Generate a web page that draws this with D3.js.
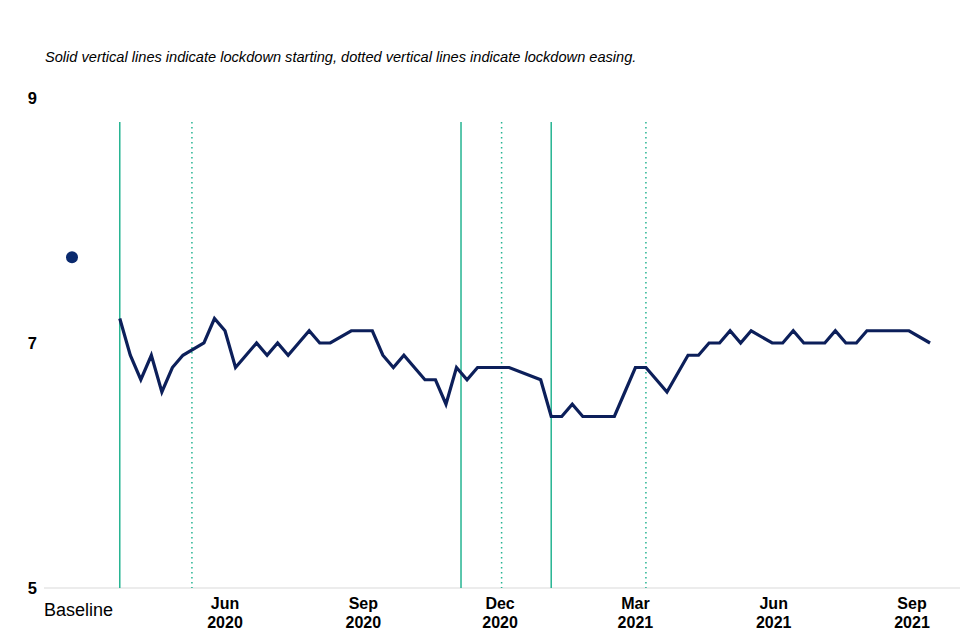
<!DOCTYPE html>
<html>
<head>
<meta charset="utf-8">
<script src="https://cdn.jsdelivr.net/npm/d3@7"></script>
<style>
  body { margin: 0; background: #fff; }
  svg { display: block; font-family: "Liberation Sans", Arial, sans-serif; }
</style>
</head>
<body>
<svg id="chart" width="960" height="640"></svg>
<script>
// ---- data ----
const note = "Solid vertical lines indicate lockdown starting, dotted vertical lines indicate lockdown easing.";
const baselineLabel = "Baseline";
const baselineValue = 7.7;

const dates = [
  "2020-03-23","2020-03-30","2020-04-06","2020-04-13","2020-04-20","2020-04-27","2020-05-04",
  "2020-05-18","2020-05-25","2020-06-01","2020-06-08","2020-06-15","2020-06-22","2020-06-29",
  "2020-07-06","2020-07-13","2020-07-20","2020-07-27","2020-08-03","2020-08-10",
  "2020-08-24","2020-08-31","2020-09-07","2020-09-14","2020-09-21","2020-09-28","2020-10-05",
  "2020-10-12","2020-10-19","2020-10-26","2020-11-02","2020-11-09","2020-11-16","2020-11-23",
  "2020-11-30","2020-12-07",
  "2020-12-28","2021-01-04","2021-01-11","2021-01-18","2021-01-25","2021-02-01","2021-02-08",
  "2021-02-15","2021-02-22","2021-03-01","2021-03-08","2021-03-15","2021-03-22",
  "2021-04-05","2021-04-12","2021-04-19","2021-04-26","2021-05-03","2021-05-10","2021-05-17",
  "2021-05-31","2021-06-07","2021-06-14","2021-06-21","2021-06-28","2021-07-05","2021-07-12",
  "2021-07-19","2021-07-26","2021-08-02","2021-08-09","2021-08-16","2021-08-23","2021-08-30",
  "2021-09-13"
];
const values = [
  7.2,6.9,6.7,6.9,6.6,6.8,6.9,
  7.0,7.2,7.1,6.8,6.9,7.0,6.9,
  7.0,6.9,7.0,7.1,7.0,7.0,
  7.1,7.1,7.1,6.9,6.8,6.9,6.8,
  6.7,6.7,6.5,6.8,6.7,6.8,6.8,
  6.8,6.8,
  6.7,6.4,6.4,6.5,6.4,6.4,6.4,
  6.4,6.6,6.8,6.8,6.7,6.6,
  6.9,6.9,7.0,7.0,7.1,7.0,7.1,
  7.0,7.0,7.1,7.0,7.0,7.0,7.1,
  7.0,7.0,7.1,7.1,7.1,7.1,7.1,
  7.0
];
const lockdownStart = ["2020-03-23","2020-11-05","2021-01-04"];
const lockdownEase = ["2020-05-10","2020-12-02","2021-03-08"];
const tickDates = ["2020-06-01","2020-09-01","2020-12-01","2021-03-01","2021-06-01","2021-09-01"];
const tickMonths = ["Jun","Sep","Dec","Mar","Jun","Sep"];
const tickYears = ["2020","2020","2020","2021","2021","2021"];
const yTicks = [5,7,9];

// ---- drawing ----
const svg = d3.select("#chart");
const parse = d3.utcParse("%Y-%m-%d");
const navy = "#0c1f5a";
const teal = "#25b491";

const y = d3.scaleLinear().domain([5, 9]).range([588, 98]);
const x = d3.scaleUtc()
  .domain([parse("2020-06-01"), parse("2021-09-01")])
  .range([225, 912]);
const xb = d3.scaleBand().domain([baselineLabel]).range([44, 100]);

// note
svg.append("text")
  .attr("x", 45).attr("y", 62)
  .attr("font-size", 14.6).attr("font-style", "italic")
  .attr("fill", "#000")
  .text(note);

// x axis line
svg.append("line")
  .attr("x1", 44).attr("x2", 960)
  .attr("y1", y(5)).attr("y2", y(5))
  .attr("stroke", "#d9d9d9").attr("stroke-width", 1);

// y tick labels
svg.append("g").selectAll("text")
  .data(yTicks).join("text")
  .attr("x", 37).attr("y", d => y(d))
  .attr("dy", "0.36em")
  .attr("text-anchor", "end")
  .attr("font-size", 16.5).attr("font-weight", "bold")
  .attr("fill", "#000")
  .text(d => d);

// vertical lockdown lines
const vTop = 122;
svg.append("g").selectAll("line")
  .data(lockdownStart).join("line")
  .attr("x1", d => x(parse(d))).attr("x2", d => x(parse(d)))
  .attr("y1", vTop).attr("y2", y(5))
  .attr("stroke", teal).attr("stroke-width", 1.5);
svg.append("g").selectAll("line")
  .data(lockdownEase).join("line")
  .attr("x1", d => x(parse(d))).attr("x2", d => x(parse(d)))
  .attr("y1", vTop).attr("y2", y(5))
  .attr("stroke", teal).attr("stroke-width", 1.5)
  .attr("stroke-dasharray", "1.5,3.5");

// x tick labels
const xt = svg.append("g").selectAll("text")
  .data(tickDates).join("text")
  .attr("x", d => x(parse(d)))
  .attr("y", 609)
  .attr("text-anchor", "middle")
  .attr("font-size", 16).attr("font-weight", "bold")
  .attr("fill", "#000");
xt.append("tspan").attr("x", d => x(parse(d))).text((d, i) => tickMonths[i]);
xt.append("tspan").attr("x", d => x(parse(d))).attr("dy", 19).text((d, i) => tickYears[i]);

// baseline label and point
svg.append("text")
  .attr("x", xb(baselineLabel)).attr("y", 616)
  .attr("font-size", 18).attr("fill", "#000")
  .text(baselineLabel);
svg.append("circle")
  .attr("cx", xb(baselineLabel) + xb.bandwidth() / 2)
  .attr("cy", y(baselineValue))
  .attr("r", 6)
  .attr("fill", "#0a2a6e");

// main line
const data = dates.map((d, i) => ({ date: parse(d), value: values[i] }));
svg.append("path")
  .datum(data)
  .attr("fill", "none")
  .attr("stroke", navy)
  .attr("stroke-width", 3.2)
  .attr("stroke-linejoin", "miter")
  .attr("d", d3.line().x(d => x(d.date)).y(d => y(d.value)));
</script>
</body>
</html>
